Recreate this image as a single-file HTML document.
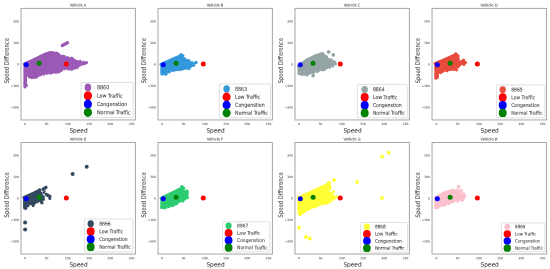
<!DOCTYPE html>
<html><head><meta charset="utf-8"><title>Speed vs Speed Difference</title>
<style>
html,body{margin:0;padding:0;background:#fff;}
body{width:550px;height:269px;overflow:hidden;}
svg{display:block;font-family:"DejaVu Sans","Liberation Sans",sans-serif;text-rendering:geometricPrecision;}
.tk{font-size:2.95px;fill:#5c5c5c;}
.ti{font-size:3.65px;fill:#4a4a4a;}
.xl{font-size:5.8px;fill:#333;}
.yl{font-size:5.25px;fill:#333;}
.lg{fill:#303030;}
text{stroke:#333;stroke-width:0.08px;stroke-opacity:0.5;}
.tk,.ti{stroke-width:0.12px;}
</style></head><body>
<svg width="550" height="269" viewBox="0 0 550 269">
<rect width="550" height="269" fill="#fff"/>
<g><!-- Vehicle A -->
<g fill="#9b59b6">
<polygon points="24.85,63.6 24.85,85.75 25.4,85.75 25.82,76.38 29.39,77.35 35.7,77.54 41.36,74.42 46.77,73.27 53.65,72.14 58.2,72.52 62.18,70.09 68.89,69.25 74.74,68.97 77.37,66.91 82.94,64.68 85.59,63.08 85.57,63.05 79.63,61.19 74.11,59.49 67.63,57.2 62.08,55.76 57.65,52.8 52.91,52.16 49.28,52.72 45.26,53.97 34.53,59.13"/>
<circle cx="24.17" cy="64.03" r="1.5"/><circle cx="25.21" cy="63.55" r="1.5"/><circle cx="26.25" cy="63.07" r="1.5"/><circle cx="27.29" cy="62.59" r="1.5"/><circle cx="28.33" cy="62.11" r="1.5"/><circle cx="29.37" cy="61.63" r="1.5"/><circle cx="30.41" cy="61.15" r="1.5"/><circle cx="31.45" cy="60.67" r="1.5"/><circle cx="32.49" cy="60.19" r="1.5"/><circle cx="33.53" cy="59.71" r="1.5"/><circle cx="34.59" cy="59.22" r="1.5"/><circle cx="35.67" cy="58.7" r="1.5"/><circle cx="36.75" cy="58.18" r="1.5"/><circle cx="37.83" cy="57.66" r="1.5"/><circle cx="38.91" cy="57.14" r="1.5"/><circle cx="39.99" cy="56.62" r="1.5"/><circle cx="41.07" cy="56.1" r="1.5"/><circle cx="42.15" cy="55.58" r="1.5"/><circle cx="43.23" cy="55.06" r="1.5"/><circle cx="44.31" cy="54.54" r="1.5"/><circle cx="45.2" cy="54.09" r="1.5"/><circle cx="46.25" cy="53.76" r="1.5"/><circle cx="47.3" cy="53.44" r="1.5"/><circle cx="48.35" cy="53.11" r="1.5"/><circle cx="49.21" cy="52.83" r="1.5"/><circle cx="50.51" cy="52.63" r="1.5"/><circle cx="51.81" cy="52.43" r="1.5"/><circle cx="52.7" cy="52.39" r="1.51"/><circle cx="55.42" cy="52.87" r="1.42"/><circle cx="57.05" cy="53.17" r="1.48"/><circle cx="58.89" cy="54.64" r="1.54"/><circle cx="62.7" cy="56.09" r="1.59"/><circle cx="64.42" cy="56.75" r="1.66"/><circle cx="67.44" cy="57.67" r="1.6"/><circle cx="69.1" cy="58.28" r="1.58"/><circle cx="71.84" cy="58.25" r="1.66"/><circle cx="73.99" cy="59.96" r="1.66"/><circle cx="76.95" cy="61.15" r="1.52"/><circle cx="80.07" cy="61.47" r="1.68"/><circle cx="83.53" cy="62.07" r="1.44"/><circle cx="84.64" cy="63.06" r="1.53"/><circle cx="86.56" cy="62.55" r="1.55"/><circle cx="84.86" cy="63.51" r="1.58"/><circle cx="82.65" cy="64.01" r="1.6"/><circle cx="79.45" cy="65.36" r="1.7"/><circle cx="77.13" cy="67.39" r="1.66"/><circle cx="74.38" cy="68.26" r="1.57"/><circle cx="71.72" cy="69.29" r="1.65"/><circle cx="68.74" cy="69.35" r="1.42"/><circle cx="64.97" cy="68.9" r="1.43"/><circle cx="61.6" cy="70.35" r="1.45"/><circle cx="59.82" cy="70.88" r="1.66"/><circle cx="58.63" cy="72.21" r="1.41"/><circle cx="55.94" cy="72.35" r="1.66"/><circle cx="52.93" cy="72.05" r="1.7"/><circle cx="51.53" cy="72.84" r="1.58"/><circle cx="49.59" cy="73" r="1.52"/><circle cx="46.65" cy="73.55" r="1.41"/><circle cx="43.67" cy="73.97" r="1.69"/><circle cx="40.6" cy="74.79" r="1.54"/><circle cx="38.08" cy="75.78" r="1.58"/><circle cx="35.98" cy="77.19" r="1.68"/><circle cx="33.77" cy="77.37" r="1.62"/><circle cx="31.8" cy="77.48" r="1.69"/><circle cx="29.57" cy="77.13" r="1.4"/><circle cx="25.65" cy="77.94" r="1.5"/><circle cx="25.6" cy="79.07" r="1.5"/><circle cx="25.55" cy="80.19" r="1.5"/><circle cx="25.5" cy="81.32" r="1.5"/><circle cx="25.45" cy="82.44" r="1.5"/><circle cx="25.4" cy="83.57" r="1.5"/><circle cx="25.35" cy="84.69" r="1.5"/><circle cx="25.3" cy="85.82" r="1.5"/><circle cx="26.6" cy="85.45" r="1.41"/><circle cx="24.95" cy="87" r="1.5"/><circle cx="24.95" cy="85.79" r="1.5"/><circle cx="24.95" cy="84.58" r="1.5"/><circle cx="24.95" cy="83.37" r="1.5"/><circle cx="24.95" cy="82.16" r="1.5"/><circle cx="24.95" cy="80.95" r="1.5"/><circle cx="24.95" cy="79.74" r="1.5"/><circle cx="24.95" cy="78.53" r="1.5"/><circle cx="24.95" cy="77.32" r="1.5"/><circle cx="24.95" cy="76.11" r="1.5"/><circle cx="24.95" cy="74.9" r="1.5"/><circle cx="24.95" cy="73.69" r="1.5"/><circle cx="24.95" cy="72.48" r="1.5"/><circle cx="24.95" cy="71.27" r="1.5"/><circle cx="24.95" cy="70.06" r="1.5"/><circle cx="24.95" cy="68.85" r="1.5"/><circle cx="24.95" cy="67.64" r="1.5"/><circle cx="24.95" cy="66.43" r="1.5"/><circle cx="24.95" cy="65.22" r="1.5"/><circle cx="24.95" cy="64.01" r="1.5"/>
</g>
<line x1="62.3" y1="45.5" x2="67.5" y2="42.7" stroke="#9b59b6" stroke-width="3.3" stroke-linecap="round"/>
<circle cx="66.3" cy="64" r="2.5" fill="#ff0000"/>
<circle cx="26.3" cy="64.7" r="2.5" fill="#0000ff"/>
<circle cx="39.1" cy="63.2" r="2.5" fill="#008000"/>
<rect x="21" y="8.4" width="114.4" height="111.55" fill="none" stroke="#a6a6a6" stroke-width="1"/>
<text class="tk" text-anchor="middle" transform="translate(25.3 125.05) rotate(0.15) scale(1 1.05)">0</text>
<text class="tk" text-anchor="middle" transform="translate(46.56 125.05) rotate(0.15) scale(1 1.05)">50</text>
<text class="tk" text-anchor="middle" transform="translate(67.82 125.05) rotate(0.15) scale(1 1.05)">100</text>
<text class="tk" text-anchor="middle" transform="translate(89.08 125.05) rotate(0.15) scale(1 1.05)">150</text>
<text class="tk" text-anchor="middle" transform="translate(110.34 125.05) rotate(0.15) scale(1 1.05)">200</text>
<text class="tk" text-anchor="middle" transform="translate(131.6 125.05) rotate(0.15) scale(1 1.05)">250</text>
<text class="tk" text-anchor="end" transform="translate(18.8 22.49) rotate(0.15) scale(1 1.05)">200</text>
<text class="tk" text-anchor="end" transform="translate(18.8 43.97) rotate(0.15) scale(1 1.05)">100</text>
<text class="tk" text-anchor="end" transform="translate(18.8 65.45) rotate(0.15) scale(1 1.05)">0</text>
<text class="tk" text-anchor="end" transform="translate(18.8 86.93) rotate(0.15) scale(1 1.05)">−100</text>
<text class="tk" text-anchor="end" transform="translate(18.8 108.41) rotate(0.15) scale(1 1.05)">−200</text>
<text class="ti" text-anchor="middle" transform="translate(78 6.4) rotate(0.15) scale(1 1.06)">Vehicle A</text>
<text class="xl" text-anchor="middle" transform="translate(78.5 132.4) rotate(0.15) scale(1 1.02)">Speed</text>
<text class="yl" text-anchor="middle" transform="translate(8.8 60.7) rotate(-90.15) scale(1 1.17)">Speed Difference</text>
<rect x="81" y="82.5" width="52.2" height="35.1" rx="0.8" fill="#fff" fill-opacity="0.8" stroke="#d4d4d4" stroke-width="0.7"/>
<ellipse cx="87.9" cy="87.45" rx="3.25" ry="3.85" fill="#9b59b6"/>
<text class="lg" font-size="4.86" transform="translate(96.9 89.31) rotate(0.15) scale(1 1.15)">8860</text>
<ellipse cx="87.9" cy="95.75" rx="4.1" ry="4.45" fill="#ff0000"/>
<text class="lg" font-size="4.86" transform="translate(96.9 97.61) rotate(0.15) scale(1 1.15)">Low Traffic</text>
<ellipse cx="87.9" cy="104.05" rx="4.1" ry="4.45" fill="#0000ff"/>
<text class="lg" font-size="4.86" transform="translate(96.9 105.91) rotate(0.15) scale(1 1.15)">Congenstion</text>
<ellipse cx="87.9" cy="112.45" rx="4.1" ry="4.45" fill="#008000"/>
<text class="lg" font-size="4.86" transform="translate(96.9 114.31) rotate(0.15) scale(1 1.15)">Normal Traffic</text>
</g>
<g><!-- Vehicle B -->
<g fill="#3498db">
<polygon points="161.75,63.81 161.75,73.64 161.81,73.74 164.58,74.56 169.57,72.02 178.55,69.97 188.55,68.21 193.87,64.98 195.16,63.88 191.86,61.93 186.28,59.87 182.69,55.96 181.39,55.12 170.51,59.94"/>
<circle cx="161.05" cy="64.23" r="1.5"/><circle cx="162.1" cy="63.77" r="1.5"/><circle cx="163.16" cy="63.3" r="1.5"/><circle cx="164.21" cy="62.83" r="1.5"/><circle cx="165.27" cy="62.37" r="1.5"/><circle cx="166.32" cy="61.9" r="1.5"/><circle cx="167.38" cy="61.43" r="1.5"/><circle cx="168.43" cy="60.97" r="1.5"/><circle cx="169.49" cy="60.5" r="1.5"/><circle cx="170.55" cy="60.03" r="1.5"/><circle cx="171.7" cy="59.52" r="1.5"/><circle cx="172.85" cy="59.01" r="1.5"/><circle cx="174" cy="58.5" r="1.5"/><circle cx="175.15" cy="57.99" r="1.5"/><circle cx="176.3" cy="57.48" r="1.5"/><circle cx="177.45" cy="56.97" r="1.5"/><circle cx="178.6" cy="56.46" r="1.5"/><circle cx="179.75" cy="55.95" r="1.5"/><circle cx="180.9" cy="55.44" r="1.5"/><circle cx="180.99" cy="54.48" r="1.52"/><circle cx="182.85" cy="55.6" r="1.52"/><circle cx="184.26" cy="58.54" r="1.63"/><circle cx="186.48" cy="60.2" r="1.48"/><circle cx="188.93" cy="60.52" r="1.46"/><circle cx="191.97" cy="62.73" r="1.64"/><circle cx="194.68" cy="63.37" r="1.49"/><circle cx="195.99" cy="62.51" r="1.66"/><circle cx="193.59" cy="65.54" r="1.58"/><circle cx="190.8" cy="66.6" r="1.45"/><circle cx="188.84" cy="68.5" r="1.68"/><circle cx="185.72" cy="68.44" r="1.49"/><circle cx="183.11" cy="68.87" r="1.66"/><circle cx="180.65" cy="69.39" r="1.52"/><circle cx="178.35" cy="69.91" r="1.45"/><circle cx="175.74" cy="69.99" r="1.41"/><circle cx="173.24" cy="70.81" r="1.48"/><circle cx="169.31" cy="71.96" r="1.5"/><circle cx="166.21" cy="73.95" r="1.52"/><circle cx="165.16" cy="74.34" r="1.48"/><circle cx="162.5" cy="73.86" r="1.5"/><circle cx="161.85" cy="74" r="1.5"/><circle cx="161.85" cy="72.78" r="1.5"/><circle cx="161.85" cy="71.56" r="1.5"/><circle cx="161.85" cy="70.33" r="1.5"/><circle cx="161.85" cy="69.11" r="1.5"/><circle cx="161.85" cy="67.89" r="1.5"/><circle cx="161.85" cy="66.67" r="1.5"/><circle cx="161.85" cy="65.44" r="1.5"/><circle cx="161.85" cy="64.22" r="1.5"/>
</g>
<circle cx="203.3" cy="64" r="2.5" fill="#ff0000"/>
<circle cx="163.3" cy="64.7" r="2.5" fill="#0000ff"/>
<circle cx="176.1" cy="63.2" r="2.5" fill="#008000"/>
<rect x="158" y="8.4" width="114.4" height="111.55" fill="none" stroke="#a6a6a6" stroke-width="1"/>
<text class="tk" text-anchor="middle" transform="translate(162.3 125.05) rotate(0.15) scale(1 1.05)">0</text>
<text class="tk" text-anchor="middle" transform="translate(183.56 125.05) rotate(0.15) scale(1 1.05)">50</text>
<text class="tk" text-anchor="middle" transform="translate(204.82 125.05) rotate(0.15) scale(1 1.05)">100</text>
<text class="tk" text-anchor="middle" transform="translate(226.08 125.05) rotate(0.15) scale(1 1.05)">150</text>
<text class="tk" text-anchor="middle" transform="translate(247.34 125.05) rotate(0.15) scale(1 1.05)">200</text>
<text class="tk" text-anchor="middle" transform="translate(268.6 125.05) rotate(0.15) scale(1 1.05)">250</text>
<text class="tk" text-anchor="end" transform="translate(155.8 22.49) rotate(0.15) scale(1 1.05)">200</text>
<text class="tk" text-anchor="end" transform="translate(155.8 43.97) rotate(0.15) scale(1 1.05)">100</text>
<text class="tk" text-anchor="end" transform="translate(155.8 65.45) rotate(0.15) scale(1 1.05)">0</text>
<text class="tk" text-anchor="end" transform="translate(155.8 86.93) rotate(0.15) scale(1 1.05)">−100</text>
<text class="tk" text-anchor="end" transform="translate(155.8 108.41) rotate(0.15) scale(1 1.05)">−200</text>
<text class="ti" text-anchor="middle" transform="translate(215 6.4) rotate(0.15) scale(1 1.06)">Vehicle B</text>
<text class="xl" text-anchor="middle" transform="translate(215.5 132.4) rotate(0.15) scale(1 1.02)">Speed</text>
<text class="yl" text-anchor="middle" transform="translate(145.8 60.7) rotate(-90.15) scale(1 1.17)">Speed Difference</text>
<rect x="219.2" y="83.9" width="51.3" height="33.9" rx="0.8" fill="#fff" fill-opacity="0.8" stroke="#d4d4d4" stroke-width="0.7"/>
<ellipse cx="226.6" cy="89.05" rx="3.21" ry="3.7" fill="#3498db"/>
<text class="lg" font-size="4.73" transform="translate(235.1 90.86) rotate(0.15) scale(1 1.15)">8863</text>
<ellipse cx="226.6" cy="96.95" rx="4.04" ry="4.34" fill="#ff0000"/>
<text class="lg" font-size="4.73" transform="translate(235.1 98.76) rotate(0.15) scale(1 1.15)">Low Traffic</text>
<ellipse cx="226.6" cy="104.95" rx="4.04" ry="4.34" fill="#0000ff"/>
<text class="lg" font-size="4.73" transform="translate(235.1 106.76) rotate(0.15) scale(1 1.15)">Congenstion</text>
<ellipse cx="226.6" cy="112.95" rx="4.04" ry="4.34" fill="#008000"/>
<text class="lg" font-size="4.73" transform="translate(235.1 114.76) rotate(0.15) scale(1 1.15)">Normal Traffic</text>
</g>
<g><!-- Vehicle C -->
<g fill="#95a5a6">
<polygon points="298.77,65.63 298.94,72.93 301.38,75.15 306.65,75.15 313.95,72.09 322.62,70.6 329.98,67.16 334.96,64.9 335.38,63.42 331.44,60 326.21,56.58 322.85,53.31 316.25,55.27 307.53,59.38"/>
<circle cx="298.28" cy="66.1" r="1.5"/><circle cx="299.22" cy="65.43" r="1.5"/><circle cx="300.16" cy="64.76" r="1.5"/><circle cx="301.1" cy="64.09" r="1.5"/><circle cx="302.04" cy="63.42" r="1.5"/><circle cx="302.98" cy="62.75" r="1.5"/><circle cx="303.92" cy="62.08" r="1.5"/><circle cx="304.86" cy="61.41" r="1.5"/><circle cx="305.8" cy="60.74" r="1.5"/><circle cx="306.74" cy="60.07" r="1.5"/><circle cx="307.48" cy="59.52" r="1.5"/><circle cx="308.59" cy="59" r="1.5"/><circle cx="309.7" cy="58.47" r="1.5"/><circle cx="310.81" cy="57.95" r="1.5"/><circle cx="311.93" cy="57.42" r="1.5"/><circle cx="313.04" cy="56.9" r="1.5"/><circle cx="314.15" cy="56.37" r="1.5"/><circle cx="315.26" cy="55.85" r="1.5"/><circle cx="316.18" cy="55.39" r="1.5"/><circle cx="317.42" cy="55.03" r="1.5"/><circle cx="318.65" cy="54.66" r="1.5"/><circle cx="319.88" cy="54.29" r="1.5"/><circle cx="321.12" cy="53.93" r="1.5"/><circle cx="322.35" cy="53.56" r="1.5"/><circle cx="322.09" cy="53.28" r="1.64"/><circle cx="324.29" cy="55.42" r="1.68"/><circle cx="326.23" cy="56.78" r="1.68"/><circle cx="328.71" cy="59.08" r="1.43"/><circle cx="331.46" cy="59.85" r="1.56"/><circle cx="334.05" cy="61.69" r="1.47"/><circle cx="334.89" cy="62.45" r="1.63"/><circle cx="335.24" cy="64.13" r="1.44"/><circle cx="332.69" cy="66.25" r="1.4"/><circle cx="329.58" cy="67.54" r="1.46"/><circle cx="326.58" cy="68" r="1.49"/><circle cx="324.29" cy="69.54" r="1.6"/><circle cx="322.66" cy="69.81" r="1.61"/><circle cx="319.09" cy="70.48" r="1.49"/><circle cx="317.23" cy="71.76" r="1.44"/><circle cx="313.84" cy="72.2" r="1.58"/><circle cx="311.8" cy="72.53" r="1.5"/><circle cx="308.88" cy="73.55" r="1.54"/><circle cx="306.9" cy="74.97" r="1.61"/><circle cx="304.56" cy="74.33" r="1.41"/><circle cx="301.97" cy="74.81" r="1.41"/><circle cx="299.93" cy="73.8" r="1.57"/><circle cx="299.05" cy="73.47" r="1.5"/><circle cx="299.02" cy="72.25" r="1.5"/><circle cx="298.99" cy="71.04" r="1.5"/><circle cx="298.96" cy="69.83" r="1.5"/><circle cx="298.94" cy="68.61" r="1.5"/><circle cx="298.91" cy="67.4" r="1.5"/><circle cx="298.88" cy="66.18" r="1.5"/>
</g>
<circle cx="328.7" cy="51.9" r="1.85" fill="#95a5a6"/>
<circle cx="333.3" cy="54.9" r="1.85" fill="#95a5a6"/>
<circle cx="313.1" cy="75.6" r="1.85" fill="#95a5a6"/>
<circle cx="340.3" cy="64" r="2.5" fill="#ff0000"/>
<circle cx="300.3" cy="64.7" r="2.5" fill="#0000ff"/>
<circle cx="313.1" cy="63.2" r="2.5" fill="#008000"/>
<rect x="295" y="8.4" width="114.4" height="111.55" fill="none" stroke="#a6a6a6" stroke-width="1"/>
<text class="tk" text-anchor="middle" transform="translate(299.3 125.05) rotate(0.15) scale(1 1.05)">0</text>
<text class="tk" text-anchor="middle" transform="translate(320.56 125.05) rotate(0.15) scale(1 1.05)">50</text>
<text class="tk" text-anchor="middle" transform="translate(341.82 125.05) rotate(0.15) scale(1 1.05)">100</text>
<text class="tk" text-anchor="middle" transform="translate(363.08 125.05) rotate(0.15) scale(1 1.05)">150</text>
<text class="tk" text-anchor="middle" transform="translate(384.34 125.05) rotate(0.15) scale(1 1.05)">200</text>
<text class="tk" text-anchor="middle" transform="translate(405.6 125.05) rotate(0.15) scale(1 1.05)">250</text>
<text class="tk" text-anchor="end" transform="translate(292.8 22.49) rotate(0.15) scale(1 1.05)">200</text>
<text class="tk" text-anchor="end" transform="translate(292.8 43.97) rotate(0.15) scale(1 1.05)">100</text>
<text class="tk" text-anchor="end" transform="translate(292.8 65.45) rotate(0.15) scale(1 1.05)">0</text>
<text class="tk" text-anchor="end" transform="translate(292.8 86.93) rotate(0.15) scale(1 1.05)">−100</text>
<text class="tk" text-anchor="end" transform="translate(292.8 108.41) rotate(0.15) scale(1 1.05)">−200</text>
<text class="ti" text-anchor="middle" transform="translate(352 6.4) rotate(0.15) scale(1 1.06)">Vehicle C</text>
<text class="xl" text-anchor="middle" transform="translate(352.5 132.4) rotate(0.15) scale(1 1.02)">Speed</text>
<text class="yl" text-anchor="middle" transform="translate(282.8 60.7) rotate(-90.15) scale(1 1.17)">Speed Difference</text>
<rect x="357.4" y="84.4" width="49.9" height="33.4" rx="0.8" fill="#fff" fill-opacity="0.8" stroke="#d4d4d4" stroke-width="0.7"/>
<ellipse cx="364.7" cy="89.55" rx="3.17" ry="3.58" fill="#95a5a6"/>
<text class="lg" font-size="4.62" transform="translate(372.9 91.31) rotate(0.15) scale(1 1.15)">8864</text>
<ellipse cx="364.7" cy="97.35" rx="3.99" ry="4.24" fill="#ff0000"/>
<text class="lg" font-size="4.62" transform="translate(372.9 99.11) rotate(0.15) scale(1 1.15)">Low Traffic</text>
<ellipse cx="364.7" cy="105.15" rx="3.99" ry="4.24" fill="#0000ff"/>
<text class="lg" font-size="4.62" transform="translate(372.9 106.91) rotate(0.15) scale(1 1.15)">Congenstion</text>
<ellipse cx="364.7" cy="112.95" rx="3.99" ry="4.24" fill="#008000"/>
<text class="lg" font-size="4.62" transform="translate(372.9 114.71) rotate(0.15) scale(1 1.15)">Normal Traffic</text>
</g>
<g><!-- Vehicle D -->
<g fill="#e74c3c">
<polygon points="435.75,63.12 435.75,76.95 436.54,76.95 437.42,74.66 443.58,72.02 447.06,71.03 451.08,69.12 456.04,69.6 460.34,65.4 463.95,64.23 465,62.89 463.77,60.73 460.32,61.55 457.69,56.18 456.47,54.01 447.3,58.14"/>
<circle cx="435.03" cy="63.54" r="1.5"/><circle cx="436.15" cy="63.06" r="1.5"/><circle cx="437.27" cy="62.58" r="1.5"/><circle cx="438.39" cy="62.09" r="1.5"/><circle cx="439.51" cy="61.61" r="1.5"/><circle cx="440.63" cy="61.13" r="1.5"/><circle cx="441.74" cy="60.65" r="1.5"/><circle cx="442.86" cy="60.17" r="1.5"/><circle cx="443.98" cy="59.69" r="1.5"/><circle cx="445.1" cy="59.2" r="1.5"/><circle cx="446.22" cy="58.72" r="1.5"/><circle cx="447.35" cy="58.23" r="1.5"/><circle cx="448.49" cy="57.72" r="1.5"/><circle cx="449.62" cy="57.21" r="1.5"/><circle cx="450.75" cy="56.7" r="1.5"/><circle cx="451.89" cy="56.19" r="1.5"/><circle cx="453.02" cy="55.68" r="1.5"/><circle cx="454.15" cy="55.16" r="1.5"/><circle cx="455.29" cy="54.65" r="1.5"/><circle cx="456.42" cy="54.14" r="1.5"/><circle cx="455.64" cy="53.79" r="1.55"/><circle cx="458.08" cy="55.95" r="1.6"/><circle cx="458.28" cy="58.6" r="1.51"/><circle cx="461.31" cy="61.41" r="1.5"/><circle cx="462.44" cy="61.15" r="1.5"/><circle cx="463.58" cy="60.88" r="1.5"/><circle cx="463.54" cy="60.12" r="1.64"/><circle cx="464.41" cy="62.02" r="1.56"/><circle cx="465.51" cy="62.56" r="1.57"/><circle cx="463.78" cy="64.39" r="1.64"/><circle cx="459.46" cy="65.35" r="1.5"/><circle cx="457.92" cy="66.94" r="1.64"/><circle cx="456.59" cy="69.98" r="1.46"/><circle cx="453.84" cy="69.46" r="1.69"/><circle cx="450.76" cy="69.48" r="1.6"/><circle cx="448.67" cy="69.42" r="1.67"/><circle cx="447.02" cy="70.63" r="1.61"/><circle cx="442.76" cy="71.48" r="1.41"/><circle cx="440.77" cy="72.86" r="1.49"/><circle cx="437.5" cy="75.39" r="1.66"/><circle cx="437.36" cy="77.25" r="1.6"/><circle cx="435.85" cy="78.2" r="1.5"/><circle cx="435.85" cy="76.98" r="1.5"/><circle cx="435.85" cy="75.75" r="1.5"/><circle cx="435.85" cy="74.53" r="1.5"/><circle cx="435.85" cy="73.31" r="1.5"/><circle cx="435.85" cy="72.08" r="1.5"/><circle cx="435.85" cy="70.86" r="1.5"/><circle cx="435.85" cy="69.64" r="1.5"/><circle cx="435.85" cy="68.42" r="1.5"/><circle cx="435.85" cy="67.19" r="1.5"/><circle cx="435.85" cy="65.97" r="1.5"/><circle cx="435.85" cy="64.75" r="1.5"/><circle cx="435.85" cy="63.52" r="1.5"/>
</g>
<circle cx="477.35" cy="64" r="2.5" fill="#ff0000"/>
<circle cx="437.35" cy="64.7" r="2.5" fill="#0000ff"/>
<circle cx="450.15" cy="63.2" r="2.5" fill="#008000"/>
<rect x="432.05" y="8.4" width="114.4" height="111.55" fill="none" stroke="#a6a6a6" stroke-width="1"/>
<text class="tk" text-anchor="middle" transform="translate(436.35 125.05) rotate(0.15) scale(1 1.05)">0</text>
<text class="tk" text-anchor="middle" transform="translate(457.61 125.05) rotate(0.15) scale(1 1.05)">50</text>
<text class="tk" text-anchor="middle" transform="translate(478.87 125.05) rotate(0.15) scale(1 1.05)">100</text>
<text class="tk" text-anchor="middle" transform="translate(500.13 125.05) rotate(0.15) scale(1 1.05)">150</text>
<text class="tk" text-anchor="middle" transform="translate(521.39 125.05) rotate(0.15) scale(1 1.05)">200</text>
<text class="tk" text-anchor="middle" transform="translate(542.65 125.05) rotate(0.15) scale(1 1.05)">250</text>
<text class="tk" text-anchor="end" transform="translate(429.85 22.49) rotate(0.15) scale(1 1.05)">200</text>
<text class="tk" text-anchor="end" transform="translate(429.85 43.97) rotate(0.15) scale(1 1.05)">100</text>
<text class="tk" text-anchor="end" transform="translate(429.85 65.45) rotate(0.15) scale(1 1.05)">0</text>
<text class="tk" text-anchor="end" transform="translate(429.85 86.93) rotate(0.15) scale(1 1.05)">−100</text>
<text class="tk" text-anchor="end" transform="translate(429.85 108.41) rotate(0.15) scale(1 1.05)">−200</text>
<text class="ti" text-anchor="middle" transform="translate(489.05 6.4) rotate(0.15) scale(1 1.06)">Vehicle D</text>
<text class="xl" text-anchor="middle" transform="translate(489.55 132.4) rotate(0.15) scale(1 1.02)">Speed</text>
<text class="yl" text-anchor="middle" transform="translate(419.85 60.7) rotate(-90.15) scale(1 1.17)">Speed Difference</text>
<rect x="496.4" y="85" width="48.4" height="32.8" rx="0.8" fill="#fff" fill-opacity="0.8" stroke="#d4d4d4" stroke-width="0.7"/>
<ellipse cx="502.7" cy="89.85" rx="3.14" ry="3.49" fill="#e74c3c"/>
<text class="lg" font-size="4.54" transform="translate(511.2 91.58) rotate(0.15) scale(1 1.15)">8865</text>
<ellipse cx="502.7" cy="97.45" rx="3.95" ry="4.17" fill="#ff0000"/>
<text class="lg" font-size="4.54" transform="translate(511.2 99.18) rotate(0.15) scale(1 1.15)">Low Traffic</text>
<ellipse cx="502.7" cy="105.15" rx="3.95" ry="4.17" fill="#0000ff"/>
<text class="lg" font-size="4.54" transform="translate(511.2 106.88) rotate(0.15) scale(1 1.15)">Congenstion</text>
<ellipse cx="502.7" cy="112.95" rx="3.95" ry="4.17" fill="#008000"/>
<text class="lg" font-size="4.54" transform="translate(511.2 114.68) rotate(0.15) scale(1 1.15)">Normal Traffic</text>
</g>
<g><!-- Vehicle E -->
<g fill="#34495e">
<polygon points="24.55,197.1 24.55,207.34 25.18,207.77 26.2,207.04 28.7,204.66 32.72,205.38 34.75,204 38.04,201.32 40.86,202.73 41.79,201.57 43.07,199.6 43.24,196.69 42.04,193.47 40.72,190.4 39.66,190.2 31.52,193.94"/>
<circle cx="23.86" cy="197.53" r="1.5"/><circle cx="24.96" cy="197.03" r="1.5"/><circle cx="26.06" cy="196.53" r="1.5"/><circle cx="27.16" cy="196.03" r="1.5"/><circle cx="28.26" cy="195.53" r="1.5"/><circle cx="29.36" cy="195.03" r="1.5"/><circle cx="30.46" cy="194.53" r="1.5"/><circle cx="31.56" cy="194.03" r="1.5"/><circle cx="32.63" cy="193.54" r="1.5"/><circle cx="33.69" cy="193.05" r="1.5"/><circle cx="34.75" cy="192.56" r="1.5"/><circle cx="35.81" cy="192.08" r="1.5"/><circle cx="36.88" cy="191.59" r="1.5"/><circle cx="37.94" cy="191.1" r="1.5"/><circle cx="39" cy="190.61" r="1.5"/><circle cx="39.31" cy="189.88" r="1.6"/><circle cx="40.23" cy="189.89" r="1.51"/><circle cx="41.83" cy="193.51" r="1.41"/><circle cx="43.15" cy="196.42" r="1.5"/><circle cx="43.09" cy="197.59" r="1.5"/><circle cx="43.02" cy="198.76" r="1.5"/><circle cx="43.55" cy="199.51" r="1.43"/><circle cx="41.34" cy="201.13" r="1.44"/><circle cx="41.92" cy="202.85" r="1.68"/><circle cx="37.26" cy="201.86" r="1.69"/><circle cx="34.42" cy="203.42" r="1.49"/><circle cx="33.17" cy="205.76" r="1.49"/><circle cx="28.05" cy="205.57" r="1.57"/><circle cx="26.12" cy="207.05" r="1.56"/><circle cx="25.7" cy="208.58" r="1.46"/><circle cx="24.65" cy="208" r="1.5"/><circle cx="24.65" cy="206.83" r="1.5"/><circle cx="24.65" cy="205.66" r="1.5"/><circle cx="24.65" cy="204.49" r="1.5"/><circle cx="24.65" cy="203.32" r="1.5"/><circle cx="24.65" cy="202.15" r="1.5"/><circle cx="24.65" cy="200.98" r="1.5"/><circle cx="24.65" cy="199.81" r="1.5"/><circle cx="24.65" cy="198.64" r="1.5"/><circle cx="24.65" cy="197.47" r="1.5"/>
</g>
<line x1="44" y1="190.6" x2="44.2" y2="192.6" stroke="#fff" stroke-opacity="0.8" stroke-width="3.8" stroke-linecap="round"/>
<line x1="44" y1="190.6" x2="44.2" y2="192.6" stroke="#34495e" stroke-width="3" stroke-linecap="round"/>
<line x1="43" y1="189.3" x2="46" y2="187.3" stroke="#fff" stroke-opacity="0.8" stroke-width="4.1" stroke-linecap="round"/>
<line x1="43" y1="189.3" x2="46" y2="187.3" stroke="#34495e" stroke-width="3.3" stroke-linecap="round"/>
<line x1="46.3" y1="194.5" x2="50" y2="196.5" stroke="#fff" stroke-opacity="0.8" stroke-width="4.1" stroke-linecap="round"/>
<line x1="46.3" y1="194.5" x2="50" y2="196.5" stroke="#34495e" stroke-width="3.3" stroke-linecap="round"/>
<circle cx="72.6" cy="174.1" r="2" fill="#34495e"/>
<circle cx="86.7" cy="166.7" r="2" fill="#34495e"/>
<circle cx="25.1" cy="222.4" r="2" fill="#34495e"/>
<circle cx="25.1" cy="229.5" r="2" fill="#34495e"/>
<circle cx="49.8" cy="198.6" r="1.5" fill="#34495e"/>
<circle cx="66.3" cy="198.1" r="2.5" fill="#ff0000"/>
<circle cx="26.3" cy="198.8" r="2.5" fill="#0000ff"/>
<circle cx="39.1" cy="197.3" r="2.5" fill="#008000"/>
<rect x="21" y="142.5" width="114.4" height="111.55" fill="none" stroke="#a6a6a6" stroke-width="1"/>
<text class="tk" text-anchor="middle" transform="translate(25.3 259.15) rotate(0.15) scale(1 1.05)">0</text>
<text class="tk" text-anchor="middle" transform="translate(46.56 259.15) rotate(0.15) scale(1 1.05)">50</text>
<text class="tk" text-anchor="middle" transform="translate(67.82 259.15) rotate(0.15) scale(1 1.05)">100</text>
<text class="tk" text-anchor="middle" transform="translate(89.08 259.15) rotate(0.15) scale(1 1.05)">150</text>
<text class="tk" text-anchor="middle" transform="translate(110.34 259.15) rotate(0.15) scale(1 1.05)">200</text>
<text class="tk" text-anchor="middle" transform="translate(131.6 259.15) rotate(0.15) scale(1 1.05)">250</text>
<text class="tk" text-anchor="end" transform="translate(18.8 156.59) rotate(0.15) scale(1 1.05)">200</text>
<text class="tk" text-anchor="end" transform="translate(18.8 178.07) rotate(0.15) scale(1 1.05)">100</text>
<text class="tk" text-anchor="end" transform="translate(18.8 199.55) rotate(0.15) scale(1 1.05)">0</text>
<text class="tk" text-anchor="end" transform="translate(18.8 221.03) rotate(0.15) scale(1 1.05)">−100</text>
<text class="tk" text-anchor="end" transform="translate(18.8 242.51) rotate(0.15) scale(1 1.05)">−200</text>
<text class="ti" text-anchor="middle" transform="translate(78 140.5) rotate(0.15) scale(1 1.06)">Vehicle E</text>
<text class="xl" text-anchor="middle" transform="translate(78.5 266.5) rotate(0.15) scale(1 1.02)">Speed</text>
<text class="yl" text-anchor="middle" transform="translate(8.8 194.8) rotate(-90.15) scale(1 1.17)">Speed Difference</text>
<rect x="84.4" y="219" width="48.4" height="32.8" rx="0.8" fill="#fff" fill-opacity="0.8" stroke="#d4d4d4" stroke-width="0.7"/>
<ellipse cx="90.7" cy="223.85" rx="3.14" ry="3.49" fill="#34495e"/>
<text class="lg" font-size="4.54" transform="translate(99.2 225.58) rotate(0.15) scale(1 1.15)">8866</text>
<ellipse cx="90.7" cy="231.45" rx="3.95" ry="4.17" fill="#ff0000"/>
<text class="lg" font-size="4.54" transform="translate(99.2 233.18) rotate(0.15) scale(1 1.15)">Low Traffic</text>
<ellipse cx="90.7" cy="239.15" rx="3.95" ry="4.17" fill="#0000ff"/>
<text class="lg" font-size="4.54" transform="translate(99.2 240.88) rotate(0.15) scale(1 1.15)">Congenstion</text>
<ellipse cx="90.7" cy="246.95" rx="3.95" ry="4.17" fill="#008000"/>
<text class="lg" font-size="4.54" transform="translate(99.2 248.68) rotate(0.15) scale(1 1.15)">Normal Traffic</text>
</g>
<g><!-- Vehicle F -->
<g fill="#2ecc71">
<polygon points="161.75,197.78 161.75,207.08 161.85,207.26 164.66,208.17 168.71,206.61 173.14,205.43 176.75,203.48 184.84,199.92 186.97,198.19 187.22,191.93 184.57,190.87 182.99,187.39 173.35,192.12"/>
<circle cx="161.09" cy="198.21" r="1.5"/><circle cx="162.21" cy="197.67" r="1.5"/><circle cx="163.33" cy="197.12" r="1.5"/><circle cx="164.45" cy="196.58" r="1.5"/><circle cx="165.56" cy="196.03" r="1.5"/><circle cx="166.68" cy="195.49" r="1.5"/><circle cx="167.8" cy="194.94" r="1.5"/><circle cx="168.92" cy="194.4" r="1.5"/><circle cx="170.04" cy="193.85" r="1.5"/><circle cx="171.16" cy="193.3" r="1.5"/><circle cx="172.27" cy="192.76" r="1.5"/><circle cx="173.39" cy="192.21" r="1.5"/><circle cx="174.47" cy="191.68" r="1.5"/><circle cx="175.55" cy="191.15" r="1.5"/><circle cx="176.63" cy="190.62" r="1.5"/><circle cx="177.71" cy="190.09" r="1.5"/><circle cx="178.79" cy="189.56" r="1.5"/><circle cx="179.87" cy="189.03" r="1.5"/><circle cx="180.95" cy="188.5" r="1.5"/><circle cx="182.03" cy="187.97" r="1.5"/><circle cx="183.11" cy="187.44" r="1.5"/><circle cx="181.73" cy="186.55" r="1.44"/><circle cx="183.82" cy="188.39" r="1.47"/><circle cx="185.85" cy="191.2" r="1.59"/><circle cx="187.15" cy="191.05" r="1.5"/><circle cx="187.1" cy="192.33" r="1.5"/><circle cx="187.05" cy="193.61" r="1.5"/><circle cx="187" cy="194.9" r="1.5"/><circle cx="186.95" cy="196.18" r="1.5"/><circle cx="186.9" cy="197.46" r="1.5"/><circle cx="187.32" cy="197.72" r="1.55"/><circle cx="184.74" cy="199.28" r="1.43"/><circle cx="182.8" cy="201.28" r="1.48"/><circle cx="179.37" cy="201.54" r="1.51"/><circle cx="176.76" cy="203.6" r="1.7"/><circle cx="175.09" cy="203.97" r="1.51"/><circle cx="173.1" cy="205.45" r="1.61"/><circle cx="170.93" cy="205.61" r="1.67"/><circle cx="168.66" cy="206.92" r="1.42"/><circle cx="165.89" cy="207.5" r="1.46"/><circle cx="164.35" cy="207.76" r="1.62"/><circle cx="161.93" cy="207.56" r="1.51"/><circle cx="161.85" cy="207.4" r="1.5"/><circle cx="161.85" cy="206.24" r="1.5"/><circle cx="161.85" cy="205.09" r="1.5"/><circle cx="161.85" cy="203.93" r="1.5"/><circle cx="161.85" cy="202.78" r="1.5"/><circle cx="161.85" cy="201.62" r="1.5"/><circle cx="161.85" cy="200.47" r="1.5"/><circle cx="161.85" cy="199.31" r="1.5"/><circle cx="161.85" cy="198.16" r="1.5"/>
</g>
<circle cx="203.3" cy="198.1" r="2.5" fill="#ff0000"/>
<circle cx="163.3" cy="198.8" r="2.5" fill="#0000ff"/>
<circle cx="176.1" cy="197.3" r="2.5" fill="#008000"/>
<rect x="158" y="142.5" width="114.4" height="111.55" fill="none" stroke="#a6a6a6" stroke-width="1"/>
<text class="tk" text-anchor="middle" transform="translate(162.3 259.15) rotate(0.15) scale(1 1.05)">0</text>
<text class="tk" text-anchor="middle" transform="translate(183.56 259.15) rotate(0.15) scale(1 1.05)">50</text>
<text class="tk" text-anchor="middle" transform="translate(204.82 259.15) rotate(0.15) scale(1 1.05)">100</text>
<text class="tk" text-anchor="middle" transform="translate(226.08 259.15) rotate(0.15) scale(1 1.05)">150</text>
<text class="tk" text-anchor="middle" transform="translate(247.34 259.15) rotate(0.15) scale(1 1.05)">200</text>
<text class="tk" text-anchor="middle" transform="translate(268.6 259.15) rotate(0.15) scale(1 1.05)">250</text>
<text class="tk" text-anchor="end" transform="translate(155.8 156.59) rotate(0.15) scale(1 1.05)">200</text>
<text class="tk" text-anchor="end" transform="translate(155.8 178.07) rotate(0.15) scale(1 1.05)">100</text>
<text class="tk" text-anchor="end" transform="translate(155.8 199.55) rotate(0.15) scale(1 1.05)">0</text>
<text class="tk" text-anchor="end" transform="translate(155.8 221.03) rotate(0.15) scale(1 1.05)">−100</text>
<text class="tk" text-anchor="end" transform="translate(155.8 242.51) rotate(0.15) scale(1 1.05)">−200</text>
<text class="ti" text-anchor="middle" transform="translate(215 140.5) rotate(0.15) scale(1 1.06)">Vehicle F</text>
<text class="xl" text-anchor="middle" transform="translate(215.5 266.5) rotate(0.15) scale(1 1.02)">Speed</text>
<text class="yl" text-anchor="middle" transform="translate(145.8 194.8) rotate(-90.15) scale(1 1.17)">Speed Difference</text>
<rect x="222.5" y="221.7" width="47.3" height="30.1" rx="0.8" fill="#fff" fill-opacity="0.8" stroke="#d4d4d4" stroke-width="0.7"/>
<ellipse cx="228.6" cy="225.85" rx="3.09" ry="3.35" fill="#2ecc71"/>
<text class="lg" font-size="4.41" transform="translate(237.1 227.53) rotate(0.15) scale(1 1.15)">8867</text>
<ellipse cx="228.6" cy="233.05" rx="3.89" ry="4.06" fill="#ff0000"/>
<text class="lg" font-size="4.41" transform="translate(237.1 234.73) rotate(0.15) scale(1 1.15)">Low Traffic</text>
<ellipse cx="228.6" cy="240.35" rx="3.89" ry="4.06" fill="#0000ff"/>
<text class="lg" font-size="4.41" transform="translate(237.1 242.03) rotate(0.15) scale(1 1.15)">Congenstion</text>
<ellipse cx="228.6" cy="247.65" rx="3.89" ry="4.06" fill="#008000"/>
<text class="lg" font-size="4.41" transform="translate(237.1 249.33) rotate(0.15) scale(1 1.15)">Normal Traffic</text>
</g>
<g><!-- Vehicle G -->
<g fill="#ffff33">
<polygon points="298.85,197.22 298.85,212.86 299.19,214.35 301.02,214.35 305.65,210.2 313.1,207.65 319.46,204.32 327.74,202.42 333.12,199.35 335.6,197.54 332.74,194.61 328.33,192.22 329.9,186.61 329.18,184.15 328.64,183.95 320.41,187.64 310.51,192.14"/>
<circle cx="298.14" cy="197.64" r="1.5"/><circle cx="299.27" cy="197.15" r="1.5"/><circle cx="300.39" cy="196.66" r="1.5"/><circle cx="301.52" cy="196.16" r="1.5"/><circle cx="302.65" cy="195.67" r="1.5"/><circle cx="303.78" cy="195.18" r="1.5"/><circle cx="304.9" cy="194.69" r="1.5"/><circle cx="306.03" cy="194.2" r="1.5"/><circle cx="307.16" cy="193.71" r="1.5"/><circle cx="308.28" cy="193.22" r="1.5"/><circle cx="309.41" cy="192.73" r="1.5"/><circle cx="310.56" cy="192.23" r="1.5"/><circle cx="311.66" cy="191.73" r="1.5"/><circle cx="312.76" cy="191.23" r="1.5"/><circle cx="313.86" cy="190.73" r="1.5"/><circle cx="314.96" cy="190.23" r="1.5"/><circle cx="316.06" cy="189.73" r="1.5"/><circle cx="317.16" cy="189.23" r="1.5"/><circle cx="318.26" cy="188.73" r="1.5"/><circle cx="319.36" cy="188.23" r="1.5"/><circle cx="320.45" cy="187.73" r="1.5"/><circle cx="321.54" cy="187.24" r="1.5"/><circle cx="322.63" cy="186.76" r="1.5"/><circle cx="323.71" cy="186.27" r="1.5"/><circle cx="324.8" cy="185.78" r="1.5"/><circle cx="325.89" cy="185.29" r="1.5"/><circle cx="326.98" cy="184.81" r="1.5"/><circle cx="328.06" cy="184.32" r="1.5"/><circle cx="328.15" cy="183.8" r="1.44"/><circle cx="329.61" cy="184.05" r="1.55"/><circle cx="330.19" cy="186.85" r="1.57"/><circle cx="329.64" cy="189.02" r="1.51"/><circle cx="329.33" cy="192.92" r="1.62"/><circle cx="330.81" cy="193.4" r="1.43"/><circle cx="332.07" cy="195" r="1.58"/><circle cx="334.84" cy="196.84" r="1.62"/><circle cx="336.81" cy="196.75" r="1.6"/><circle cx="334.65" cy="198.11" r="1.43"/><circle cx="333.27" cy="199.47" r="1.48"/><circle cx="330.04" cy="201.33" r="1.67"/><circle cx="327.48" cy="202.87" r="1.51"/><circle cx="325.26" cy="203.42" r="1.53"/><circle cx="321.89" cy="204.07" r="1.58"/><circle cx="319.18" cy="204.12" r="1.67"/><circle cx="317.74" cy="205.72" r="1.43"/><circle cx="315.28" cy="206.99" r="1.43"/><circle cx="312.95" cy="206.91" r="1.53"/><circle cx="310.76" cy="208.05" r="1.43"/><circle cx="308.3" cy="209.53" r="1.58"/><circle cx="305.17" cy="211.14" r="1.57"/><circle cx="303.11" cy="212.82" r="1.48"/><circle cx="300.68" cy="213.5" r="1.44"/><circle cx="300.12" cy="214.88" r="1.47"/><circle cx="298.95" cy="213" r="1.5"/><circle cx="298.95" cy="211.81" r="1.5"/><circle cx="298.95" cy="210.63" r="1.5"/><circle cx="298.95" cy="209.44" r="1.5"/><circle cx="298.95" cy="208.26" r="1.5"/><circle cx="298.95" cy="207.07" r="1.5"/><circle cx="298.95" cy="205.89" r="1.5"/><circle cx="298.95" cy="204.7" r="1.5"/><circle cx="298.95" cy="203.51" r="1.5"/><circle cx="298.95" cy="202.33" r="1.5"/><circle cx="298.95" cy="201.14" r="1.5"/><circle cx="298.95" cy="199.96" r="1.5"/><circle cx="298.95" cy="198.77" r="1.5"/><circle cx="298.95" cy="197.59" r="1.5"/>
</g>
<circle cx="333.4" cy="191.7" r="1.6" fill="#ffff33"/>
<circle cx="329" cy="182.8" r="1.7" fill="#ffff33"/>
<circle cx="382.1" cy="156.4" r="1.9" fill="#ffff33"/>
<circle cx="388.7" cy="152.6" r="1.9" fill="#ffff33"/>
<circle cx="357.1" cy="182" r="1.9" fill="#ffff33"/>
<circle cx="334.2" cy="180.2" r="1.9" fill="#ffff33"/>
<circle cx="382.1" cy="198" r="1.9" fill="#ffff33"/>
<circle cx="299.1" cy="227.7" r="1.9" fill="#ffff33"/>
<circle cx="305.9" cy="237" r="1.9" fill="#ffff33"/>
<circle cx="309.8" cy="238.5" r="1.9" fill="#ffff33"/>
<circle cx="340.3" cy="198.1" r="2.5" fill="#ff0000"/>
<circle cx="300.3" cy="198.8" r="2.5" fill="#0000ff"/>
<circle cx="313.1" cy="197.3" r="2.5" fill="#008000"/>
<rect x="295" y="142.5" width="114.4" height="111.55" fill="none" stroke="#a6a6a6" stroke-width="1"/>
<text class="tk" text-anchor="middle" transform="translate(299.3 259.15) rotate(0.15) scale(1 1.05)">0</text>
<text class="tk" text-anchor="middle" transform="translate(320.56 259.15) rotate(0.15) scale(1 1.05)">50</text>
<text class="tk" text-anchor="middle" transform="translate(341.82 259.15) rotate(0.15) scale(1 1.05)">100</text>
<text class="tk" text-anchor="middle" transform="translate(363.08 259.15) rotate(0.15) scale(1 1.05)">150</text>
<text class="tk" text-anchor="middle" transform="translate(384.34 259.15) rotate(0.15) scale(1 1.05)">200</text>
<text class="tk" text-anchor="middle" transform="translate(405.6 259.15) rotate(0.15) scale(1 1.05)">250</text>
<text class="tk" text-anchor="end" transform="translate(292.8 156.59) rotate(0.15) scale(1 1.05)">200</text>
<text class="tk" text-anchor="end" transform="translate(292.8 178.07) rotate(0.15) scale(1 1.05)">100</text>
<text class="tk" text-anchor="end" transform="translate(292.8 199.55) rotate(0.15) scale(1 1.05)">0</text>
<text class="tk" text-anchor="end" transform="translate(292.8 221.03) rotate(0.15) scale(1 1.05)">−100</text>
<text class="tk" text-anchor="end" transform="translate(292.8 242.51) rotate(0.15) scale(1 1.05)">−200</text>
<text class="ti" text-anchor="middle" transform="translate(352 140.5) rotate(0.15) scale(1 1.06)">Vehicle G</text>
<text class="xl" text-anchor="middle" transform="translate(352.5 266.5) rotate(0.15) scale(1 1.02)">Speed</text>
<text class="yl" text-anchor="middle" transform="translate(282.8 194.8) rotate(-90.15) scale(1 1.17)">Speed Difference</text>
<rect x="360.4" y="222.4" width="47.1" height="29.7" rx="0.8" fill="#fff" fill-opacity="0.8" stroke="#d4d4d4" stroke-width="0.7"/>
<ellipse cx="366.9" cy="226.85" rx="3.06" ry="3.23" fill="#ffff33"/>
<text class="lg" font-size="4.3" transform="translate(374.9 228.48) rotate(0.15) scale(1 1.15)">8868</text>
<ellipse cx="366.9" cy="233.95" rx="3.84" ry="3.96" fill="#ff0000"/>
<text class="lg" font-size="4.3" transform="translate(374.9 235.58) rotate(0.15) scale(1 1.15)">Low Traffic</text>
<ellipse cx="366.9" cy="241.05" rx="3.84" ry="3.96" fill="#0000ff"/>
<text class="lg" font-size="4.3" transform="translate(374.9 242.68) rotate(0.15) scale(1 1.15)">Congenstion</text>
<ellipse cx="366.9" cy="248.15" rx="3.84" ry="3.96" fill="#008000"/>
<text class="lg" font-size="4.3" transform="translate(374.9 249.78) rotate(0.15) scale(1 1.15)">Normal Traffic</text>
</g>
<g><!-- Vehicle H -->
<g fill="#fbc0cb">
<polygon points="435.75,197.43 435.75,206.81 437.81,207.3 443.45,205.13 451.05,202.2 461.98,199.95 464.35,197.58 464.35,195.59 460.74,191.72 457.69,190.24 453.05,190.06 444.39,192.56"/>
<circle cx="435.16" cy="197.88" r="1.5"/><circle cx="436.21" cy="197.29" r="1.5"/><circle cx="437.25" cy="196.7" r="1.5"/><circle cx="438.3" cy="196.11" r="1.5"/><circle cx="439.34" cy="195.52" r="1.5"/><circle cx="440.39" cy="194.93" r="1.5"/><circle cx="441.43" cy="194.34" r="1.5"/><circle cx="442.47" cy="193.75" r="1.5"/><circle cx="443.52" cy="193.16" r="1.5"/><circle cx="444.27" cy="192.7" r="1.5"/><circle cx="445.4" cy="192.37" r="1.5"/><circle cx="446.52" cy="192.05" r="1.5"/><circle cx="447.65" cy="191.72" r="1.5"/><circle cx="448.77" cy="191.4" r="1.5"/><circle cx="449.9" cy="191.07" r="1.5"/><circle cx="451.02" cy="190.75" r="1.5"/><circle cx="452.15" cy="190.42" r="1.5"/><circle cx="452.94" cy="190.16" r="1.57"/><circle cx="455" cy="190.74" r="1.65"/><circle cx="457.83" cy="190.04" r="1.56"/><circle cx="460.68" cy="191.47" r="1.69"/><circle cx="463.43" cy="194.03" r="1.66"/><circle cx="464.25" cy="195.1" r="1.5"/><circle cx="464.25" cy="196.6" r="1.5"/><circle cx="464.61" cy="197.26" r="1.49"/><circle cx="462.98" cy="198.75" r="1.61"/><circle cx="462.18" cy="200.19" r="1.63"/><circle cx="458.71" cy="199.8" r="1.58"/><circle cx="457.48" cy="201.33" r="1.44"/><circle cx="453.34" cy="201.78" r="1.51"/><circle cx="450.47" cy="202.47" r="1.56"/><circle cx="448.66" cy="203.51" r="1.58"/><circle cx="445.61" cy="204.56" r="1.47"/><circle cx="443.6" cy="205.51" r="1.55"/><circle cx="439.83" cy="206.09" r="1.56"/><circle cx="437.52" cy="207.49" r="1.57"/><circle cx="435.85" cy="207.8" r="1.5"/><circle cx="435.85" cy="206.57" r="1.5"/><circle cx="435.85" cy="205.33" r="1.5"/><circle cx="435.85" cy="204.1" r="1.5"/><circle cx="435.85" cy="202.87" r="1.5"/><circle cx="435.85" cy="201.63" r="1.5"/><circle cx="435.85" cy="200.4" r="1.5"/><circle cx="435.85" cy="199.17" r="1.5"/><circle cx="435.85" cy="197.93" r="1.5"/>
</g>
<circle cx="458.6" cy="186.7" r="1.9" fill="#fbc0cb"/>
<circle cx="461.3" cy="190.4" r="1.6" fill="#fbc0cb"/>
<circle cx="477.35" cy="198.1" r="2.5" fill="#ff0000"/>
<circle cx="437.35" cy="198.8" r="2.5" fill="#0000ff"/>
<circle cx="450.15" cy="197.3" r="2.5" fill="#008000"/>
<rect x="432.05" y="142.5" width="114.4" height="111.55" fill="none" stroke="#a6a6a6" stroke-width="1"/>
<text class="tk" text-anchor="middle" transform="translate(436.35 259.15) rotate(0.15) scale(1 1.05)">0</text>
<text class="tk" text-anchor="middle" transform="translate(457.61 259.15) rotate(0.15) scale(1 1.05)">50</text>
<text class="tk" text-anchor="middle" transform="translate(478.87 259.15) rotate(0.15) scale(1 1.05)">100</text>
<text class="tk" text-anchor="middle" transform="translate(500.13 259.15) rotate(0.15) scale(1 1.05)">150</text>
<text class="tk" text-anchor="middle" transform="translate(521.39 259.15) rotate(0.15) scale(1 1.05)">200</text>
<text class="tk" text-anchor="middle" transform="translate(542.65 259.15) rotate(0.15) scale(1 1.05)">250</text>
<text class="tk" text-anchor="end" transform="translate(429.85 156.59) rotate(0.15) scale(1 1.05)">200</text>
<text class="tk" text-anchor="end" transform="translate(429.85 178.07) rotate(0.15) scale(1 1.05)">100</text>
<text class="tk" text-anchor="end" transform="translate(429.85 199.55) rotate(0.15) scale(1 1.05)">0</text>
<text class="tk" text-anchor="end" transform="translate(429.85 221.03) rotate(0.15) scale(1 1.05)">−100</text>
<text class="tk" text-anchor="end" transform="translate(429.85 242.51) rotate(0.15) scale(1 1.05)">−200</text>
<text class="ti" text-anchor="middle" transform="translate(489.05 140.5) rotate(0.15) scale(1 1.06)">Vehicle H</text>
<text class="xl" text-anchor="middle" transform="translate(489.55 266.5) rotate(0.15) scale(1 1.02)">Speed</text>
<text class="yl" text-anchor="middle" transform="translate(419.85 194.8) rotate(-90.15) scale(1 1.17)">Speed Difference</text>
<rect x="501.4" y="222.9" width="43.4" height="28.9" rx="0.8" fill="#fff" fill-opacity="0.8" stroke="#d4d4d4" stroke-width="0.7"/>
<ellipse cx="507.3" cy="226.85" rx="2.95" ry="2.9" fill="#fbc0cb"/>
<text class="lg" font-size="4" transform="translate(515.1 228.36) rotate(0.15) scale(1 1.15)">8869</text>
<ellipse cx="507.3" cy="233.95" rx="3.7" ry="3.7" fill="#ff0000"/>
<text class="lg" font-size="4" transform="translate(515.1 235.46) rotate(0.15) scale(1 1.15)">Low Traffic</text>
<ellipse cx="507.3" cy="241.05" rx="3.7" ry="3.7" fill="#0000ff"/>
<text class="lg" font-size="4" transform="translate(515.1 242.56) rotate(0.15) scale(1 1.15)">Congenstion</text>
<ellipse cx="507.3" cy="248.15" rx="3.7" ry="3.7" fill="#008000"/>
<text class="lg" font-size="4" transform="translate(515.1 249.66) rotate(0.15) scale(1 1.15)">Normal Traffic</text>
</g>
</svg>
</body></html>
